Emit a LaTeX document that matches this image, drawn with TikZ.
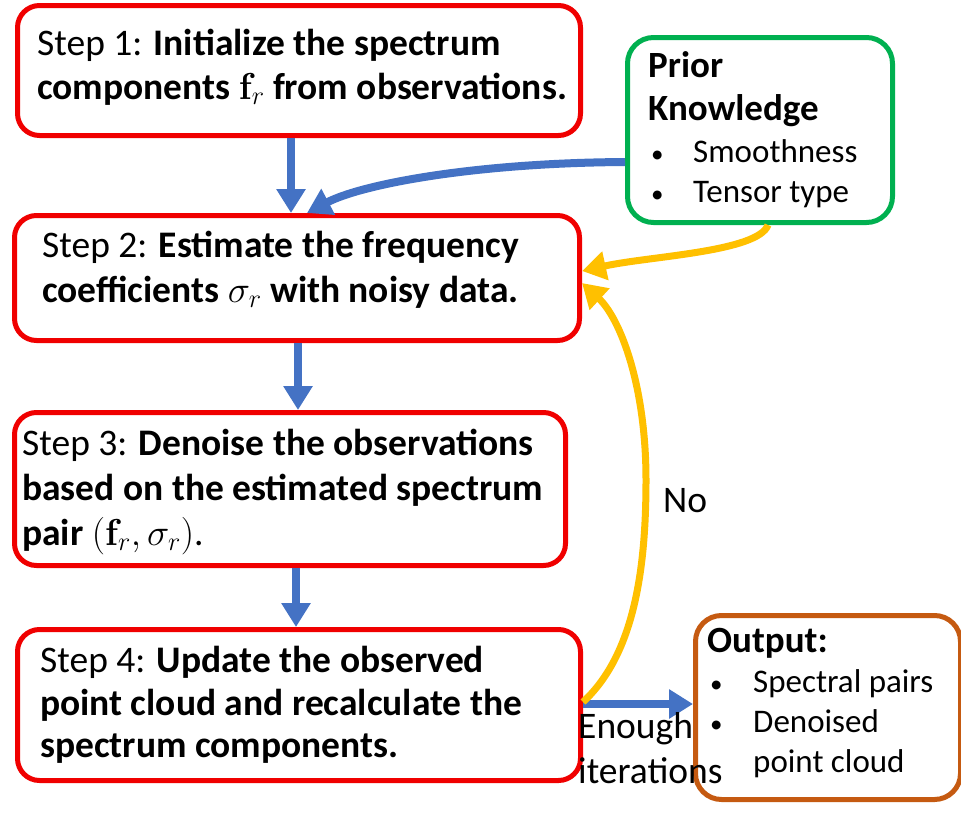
\RequirePackage{fix-cm}
\documentclass[tikz,border=0pt]{standalone}
\usepackage[no-math]{fontspec}
\setmainfont{Carlito}
\usetikzlibrary{arrows.meta}
\definecolor{cred}{HTML}{F00000}
\definecolor{cgreen}{HTML}{00B050}
\definecolor{cblue}{HTML}{4472C4}
\definecolor{cyellow}{HTML}{FFC000}
\definecolor{cbrown}{HTML}{C55A11}
\newcommand{\smallbullet}{{\fontsize{25}{25}\selectfont\textbullet}}
\begin{document}
\begin{tikzpicture}[x=1pt,y=-1pt,
  stepbox/.style={draw=cred, line width=5pt, rounded corners=22pt, fill=white, anchor=north west, inner sep=0pt},
  greenbox/.style={stepbox, draw=cgreen, rounded corners=26pt},
  brownbox/.style={stepbox, draw=cbrown, rounded corners=26pt},
  txt/.style={anchor=base west, inner sep=0pt, font=\fontsize{37.5}{43}\selectfont},
  htxt/.style={anchor=base west, inner sep=0pt, font=\fontsize{37}{43}\selectfont},
  stxt/.style={anchor=base west, inner sep=0pt, font=\fontsize{33}{40}\selectfont},
  barrow/.style={draw=cblue, line width=8pt, -{Triangle[length=24pt,width=28pt]}},
  yarrow/.style={draw=cyellow, line width=7pt, -{Triangle[length=24pt,width=28pt]}}]
\useasboundingbox (0,0) rectangle (961,817);
\fill[white] (0,0) rectangle (961,817);

% boxes
\node[stepbox, minimum width=563pt, minimum height=130pt] (s1) at (15,3) {};
\node[stepbox, minimum width=565pt, minimum height=125pt] (s2) at (12,213) {};
\node[stepbox, minimum width=551pt, minimum height=153pt] (s3) at (12,410) {};
\node[stepbox, minimum width=563pt, minimum height=151pt] (s4) at (15,627) {};
\node[greenbox, minimum width=265pt, minimum height=185pt] (pk) at (625,35) {};
\node[brownbox, minimum width=265pt, minimum height=184pt] (out) at (693,613) {};

% step texts
\node[txt] (s1a) at (37,55) {Step 1: \textbf{Initialize the spectrum}};
\node[txt] (s1b) at (37,99) {\textbf{components $\mathbf{f}_r$ from observations.}};
\node[txt] (s2a) at (42,257) {Step 2: \textbf{Estimate the frequency}};
\node[txt] (s2b) at (42,302) {\textbf{coefficients $\sigma_r$ with noisy data.}};
\node[txt] (s3a) at (22,455) {Step 3: \textbf{Denoise the observations}};
\node[txt] (s3b) at (22,500) {\textbf{based on the estimated spectrum}};
\node[txt] (s3c) at (22,545) {\textbf{pair} $(\mathbf{f}_r, \sigma_r)$.};
\node[txt] (s4a) at (40,672) {Step 4: \textbf{Update the observed}};
\node[txt] (s4b) at (40,715) {\textbf{point cloud and recalculate the}};
\node[txt] (s4c) at (40,757) {\textbf{spectrum components.}};

% prior knowledge
\node[htxt] (pka) at (648,77) {\textbf{Prior}};
\node[htxt] (pkb) at (648,120) {\textbf{Knowledge}};
\node[stxt] (pkc) at (651,162) {\smallbullet};
\node[stxt] (pkd) at (693,162) {Smoothness};
\node[stxt] (pke) at (651,202) {\smallbullet};
\node[stxt] (pkf) at (693,202) {Tensor type};

% output
\node[htxt] (oa) at (707,652) {\textbf{Output:}};
\node[stxt] (ob) at (710,692) {\smallbullet};
\node[stxt] (oc) at (753,692) {Spectral pairs};
\node[stxt] (od) at (710,732) {\smallbullet};
\node[stxt] (oe) at (753,732) {Denoised};
\node[stxt] (of) at (753,772) {point cloud};

% blue arrows
\draw[barrow] ([xshift=-8pt]s1.south) -- ([xshift=-8pt]s1.south |- s2.north);
\draw[barrow] ([xshift=1pt]s2.south) -- ([xshift=1pt]s2.south |- s3.north);
\draw[barrow] ([xshift=6pt]s3.south) -- ([xshift=6pt]s3.south |- s4.north);
\draw[barrow] ([yshift=-32pt]pk.west) .. controls (470,163) and (360,185) .. ([xshift=10pt]s2.north);
\draw[barrow] ([yshift=1pt]s4.east) -- ([yshift=1pt]s4.east -| out.west);

% yellow arrows
\draw[yarrow] ([xshift=8pt]pk.south) .. controls (758,252) and (650,256) .. ([yshift=7pt]s2.east);
\coordinate (nomid) at (646,480);
\draw[yarrow] ([yshift=3pt]s4.east) .. controls (634,655) and (646,570) .. (nomid)
   .. controls (646,385) and (620,318) .. ([yshift=-5pt]s2.east);

% labels
\node[txt] (no) at (663,512) {No};
\node[txt] (en) at (578,738) {Enough};
\node[txt] (it) at (578,783) {iterations};
\end{tikzpicture}
\end{document}
